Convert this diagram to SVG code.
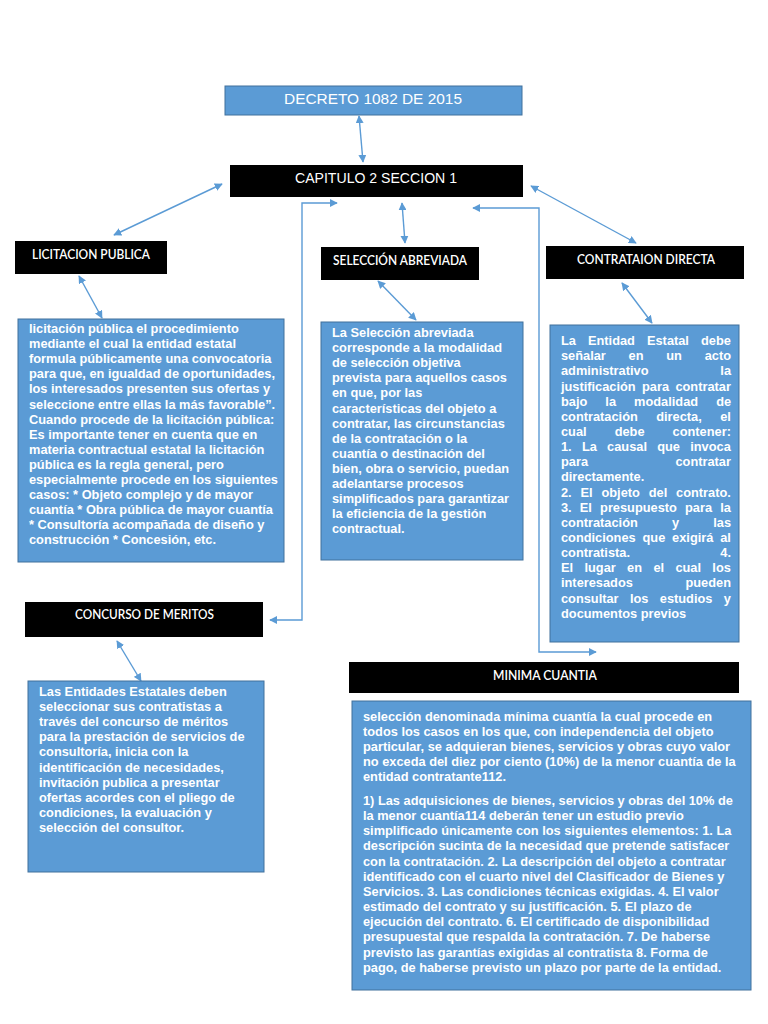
<svg xmlns="http://www.w3.org/2000/svg" width="768" height="1024" viewBox="0 0 768 1024">
<style>
.box{fill:#5b9bd5;stroke:#41719c;stroke-width:1}
.blk{fill:#000}
.t{font-family:"Liberation Sans",Arial,sans-serif;font-weight:bold;font-size:12.8px;fill:#fff}
.h{font-family:Lato,"Open Sans",sans-serif;font-weight:600;font-size:12.5px;fill:#fff;text-anchor:middle}
.ttl{font-family:"Liberation Sans",Arial,sans-serif;font-size:14.5px;fill:#fff;text-anchor:middle}
.c{fill:none;stroke:#5b9bd5;stroke-width:1.4;marker-start:url(#a);marker-end:url(#a)}
</style>
<defs>
<marker id="a" viewBox="0 0 10 10" refX="9" refY="5" markerWidth="8" markerHeight="8" markerUnits="userSpaceOnUse" orient="auto-start-reverse">
<path d="M0,0 L10,5 L0,10 z" fill="#5b9bd5"/>
</marker>
</defs>
<rect width="768" height="1024" fill="#fff"/>

<g id="connectors">
<path class="c" d="M359,116 L363,162"/>
<path class="c" d="M222,184 L114,235"/>
<path class="c" d="M402,203 L405,243"/>
<path class="c" d="M531,186 L636,243"/>
<path class="c" d="M79,276 L102,318"/>
<path class="c" d="M378,281 L416,320"/>
<path class="c" d="M622,283 L652,323"/>
<path class="c" d="M117,641 L141,681"/>
<path class="c" d="M270,620 H302 V203 H337"/>
<path class="c" d="M473,208 H539 V652 H596"/>
</g>

<g id="decreto">
<rect class="box" x="225" y="86" width="297" height="29"/>
<text class="ttl" x="373" y="104" textLength="178" lengthAdjust="spacingAndGlyphs">DECRETO 1082 DE 2015</text>
</g>

<g id="capitulo">
<rect class="blk" x="230" y="165" width="293" height="32"/>
<text class="ttl" x="376" y="183" textLength="162" lengthAdjust="spacingAndGlyphs">CAPITULO 2 SECCION 1</text>
</g>

<g id="licitacion">
<rect class="blk" x="15" y="241" width="152" height="33"/>
<text class="h" x="91" y="259" textLength="118" lengthAdjust="spacingAndGlyphs">LICITACION PUBLICA</text>
</g>

<g id="seleccion">
<rect class="blk" x="321" y="247" width="158" height="33"/>
<text class="h" x="400" y="265" textLength="134" lengthAdjust="spacingAndGlyphs">SELECCIÓN ABREVIADA</text>
</g>

<g id="contratacion">
<rect class="blk" x="546" y="246" width="198" height="33"/>
<text class="h" x="646" y="264" textLength="138" lengthAdjust="spacingAndGlyphs">CONTRATAION DIRECTA</text>
</g>

<g id="licitacion-texto">
<rect class="box" x="18" y="319" width="266" height="243"/>
<text class="t" y="333">
<tspan x="29">licitación pública el procedimiento</tspan>
<tspan x="29" dy="15.1">mediante el cual la entidad estatal</tspan>
<tspan x="29" dy="15.1">formula públicamente una convocatoria</tspan>
<tspan x="29" dy="15.1">para que, en igualdad de oportunidades,</tspan>
<tspan x="29" dy="15.1">los interesados presenten sus ofertas y</tspan>
<tspan x="29" dy="15.1">seleccione entre ellas la más favorable”.</tspan>
<tspan x="29" dy="15.1">Cuando procede de la licitación pública:</tspan>
<tspan x="29" dy="15.1">Es importante tener en cuenta que en</tspan>
<tspan x="29" dy="15.1">materia contractual estatal la licitación</tspan>
<tspan x="29" dy="15.1">pública es la regla general, pero</tspan>
<tspan x="29" dy="15.1">especialmente procede en los siguientes</tspan>
<tspan x="29" dy="15.1">casos: * Objeto complejo y de mayor</tspan>
<tspan x="29" dy="15.1">cuantía * Obra pública de mayor cuantía</tspan>
<tspan x="29" dy="15.1">* Consultoría acompañada de diseño y</tspan>
<tspan x="29" dy="15.1">construcción * Concesión, etc.</tspan>
</text>
</g>

<g id="seleccion-texto">
<rect class="box" x="321" y="322" width="202" height="238"/>
<text class="t" y="337">
<tspan x="332">La Selección abreviada</tspan>
<tspan x="332" dy="15.1">corresponde a la modalidad</tspan>
<tspan x="332" dy="15.1">de selección objetiva</tspan>
<tspan x="332" dy="15.1">prevista para aquellos casos</tspan>
<tspan x="332" dy="15.1">en que, por las</tspan>
<tspan x="332" dy="15.1">características del objeto a</tspan>
<tspan x="332" dy="15.1">contratar, las circunstancias</tspan>
<tspan x="332" dy="15.1">de la contratación o la</tspan>
<tspan x="332" dy="15.1">cuantía o destinación del</tspan>
<tspan x="332" dy="15.1">bien, obra o servicio, puedan</tspan>
<tspan x="332" dy="15.1">adelantarse procesos</tspan>
<tspan x="332" dy="15.1">simplificados para garantizar</tspan>
<tspan x="332" dy="15.1">la eficiencia de la gestión</tspan>
<tspan x="332" dy="15.1">contractual.</tspan>
</text>
</g>

<g id="contratacion-texto">
<rect class="box" x="550" y="325" width="189" height="317"/>
<text class="t" x="561" y="345" word-spacing="8.5">La Entidad Estatal debe</text>
<text class="t" x="561" y="360.2" word-spacing="19.2">señalar en un acto</text>
<text class="t" x="561" y="375.3" word-spacing="68.3">administrativo la</text>
<text class="t" x="561" y="390.5" word-spacing="2.8">justificación para contratar</text>
<text class="t" x="561" y="405.6" word-spacing="14.5">bajo la modalidad de</text>
<text class="t" x="561" y="420.8" word-spacing="14.9">contratación directa, el</text>
<text class="t" x="561" y="435.9" word-spacing="24.5">cual debe contener:</text>
<text class="t" x="561" y="451.1" word-spacing="6.7">1. La causal que invoca</text>
<text class="t" x="561" y="466.2" word-spacing="83.9">para contratar</text>
<text class="t" x="561" y="481.4">directamente.</text>
<text class="t" x="561" y="496.5" word-spacing="5.3">2. El objeto del contrato.</text>
<text class="t" x="561" y="511.7" word-spacing="4.6">3. El presupuesto para la</text>
<text class="t" x="561" y="526.8" word-spacing="30.6">contratación y las</text>
<text class="t" x="561" y="542" word-spacing="3.3">condiciones que exigirá al</text>
<text class="t" x="561" y="557.1" word-spacing="86.8">contratista. 4.</text>
<text class="t" x="561" y="572.3" word-spacing="7.8">El lugar en el cual los</text>
<text class="t" x="561" y="587.4" word-spacing="49.1">interesados pueden</text>
<text class="t" x="561" y="602.6" word-spacing="7.8">consultar los estudios y</text>
<text class="t" x="561" y="617.7">documentos previos</text>
</g>

<g id="concurso">
<rect class="blk" x="25" y="602" width="238" height="35"/>
<text class="h" x="144.5" y="619" textLength="139" lengthAdjust="spacingAndGlyphs">CONCURSO DE MERITOS</text>
</g>

<g id="concurso-texto">
<rect class="box" x="28" y="681" width="236" height="191"/>
<text class="t" y="696">
<tspan x="39">Las Entidades Estatales deben</tspan>
<tspan x="39" dy="15.1">seleccionar sus contratistas a</tspan>
<tspan x="39" dy="15.1">través del concurso de méritos</tspan>
<tspan x="39" dy="15.1">para la prestación de servicios de</tspan>
<tspan x="39" dy="15.1">consultoría, inicia con la</tspan>
<tspan x="39" dy="15.1">identificación de necesidades,</tspan>
<tspan x="39" dy="15.1">invitación publica a presentar</tspan>
<tspan x="39" dy="15.1">ofertas acordes con el pliego de</tspan>
<tspan x="39" dy="15.1">condiciones, la evaluación y</tspan>
<tspan x="39" dy="15.1">selección del consultor.</tspan>
</text>
</g>

<g id="minima">
<rect class="blk" x="349" y="662" width="390" height="31"/>
<text class="h" x="545" y="680" textLength="104" lengthAdjust="spacingAndGlyphs">MINIMA CUANTIA</text>
</g>

<g id="minima-texto">
<rect class="box" x="352" y="701" width="399" height="289"/>
<text class="t" y="721">
<tspan x="363">selección denominada mínima cuantía la cual procede en</tspan>
<tspan x="363" dy="15">todos los casos en los que, con independencia del objeto</tspan>
<tspan x="363" dy="15">particular, se adquieran bienes, servicios y obras cuyo valor</tspan>
<tspan x="363" dy="15">no exceda del diez por ciento (10%) de la menor cuantía de la</tspan>
<tspan x="363" dy="15">entidad contratante112.</tspan>
</text>
<text class="t" y="805">
<tspan x="363">1) Las adquisiciones de bienes, servicios y obras del 10% de</tspan>
<tspan x="363" dy="15.15">la menor cuantía114 deberán tener un estudio previo</tspan>
<tspan x="363" dy="15.15">simplificado únicamente con los siguientes elementos: 1. La</tspan>
<tspan x="363" dy="15.15">descripción sucinta de la necesidad que pretende satisfacer</tspan>
<tspan x="363" dy="15.15">con la contratación. 2. La descripción del objeto a contratar</tspan>
<tspan x="363" dy="15.15">identificado con el cuarto nivel del Clasificador de Bienes y</tspan>
<tspan x="363" dy="15.15">Servicios. 3. Las condiciones técnicas exigidas. 4. El valor</tspan>
<tspan x="363" dy="15.15">estimado del contrato y su justificación. 5. El plazo de</tspan>
<tspan x="363" dy="15.15">ejecución del contrato. 6. El certificado de disponibilidad</tspan>
<tspan x="363" dy="15.15">presupuestal que respalda la contratación. 7. De haberse</tspan>
<tspan x="363" dy="15.15">previsto las garantías exigidas al contratista 8. Forma de</tspan>
<tspan x="363" dy="15.15">pago, de haberse previsto un plazo por parte de la entidad.</tspan>
</text>
</g>
</svg>
